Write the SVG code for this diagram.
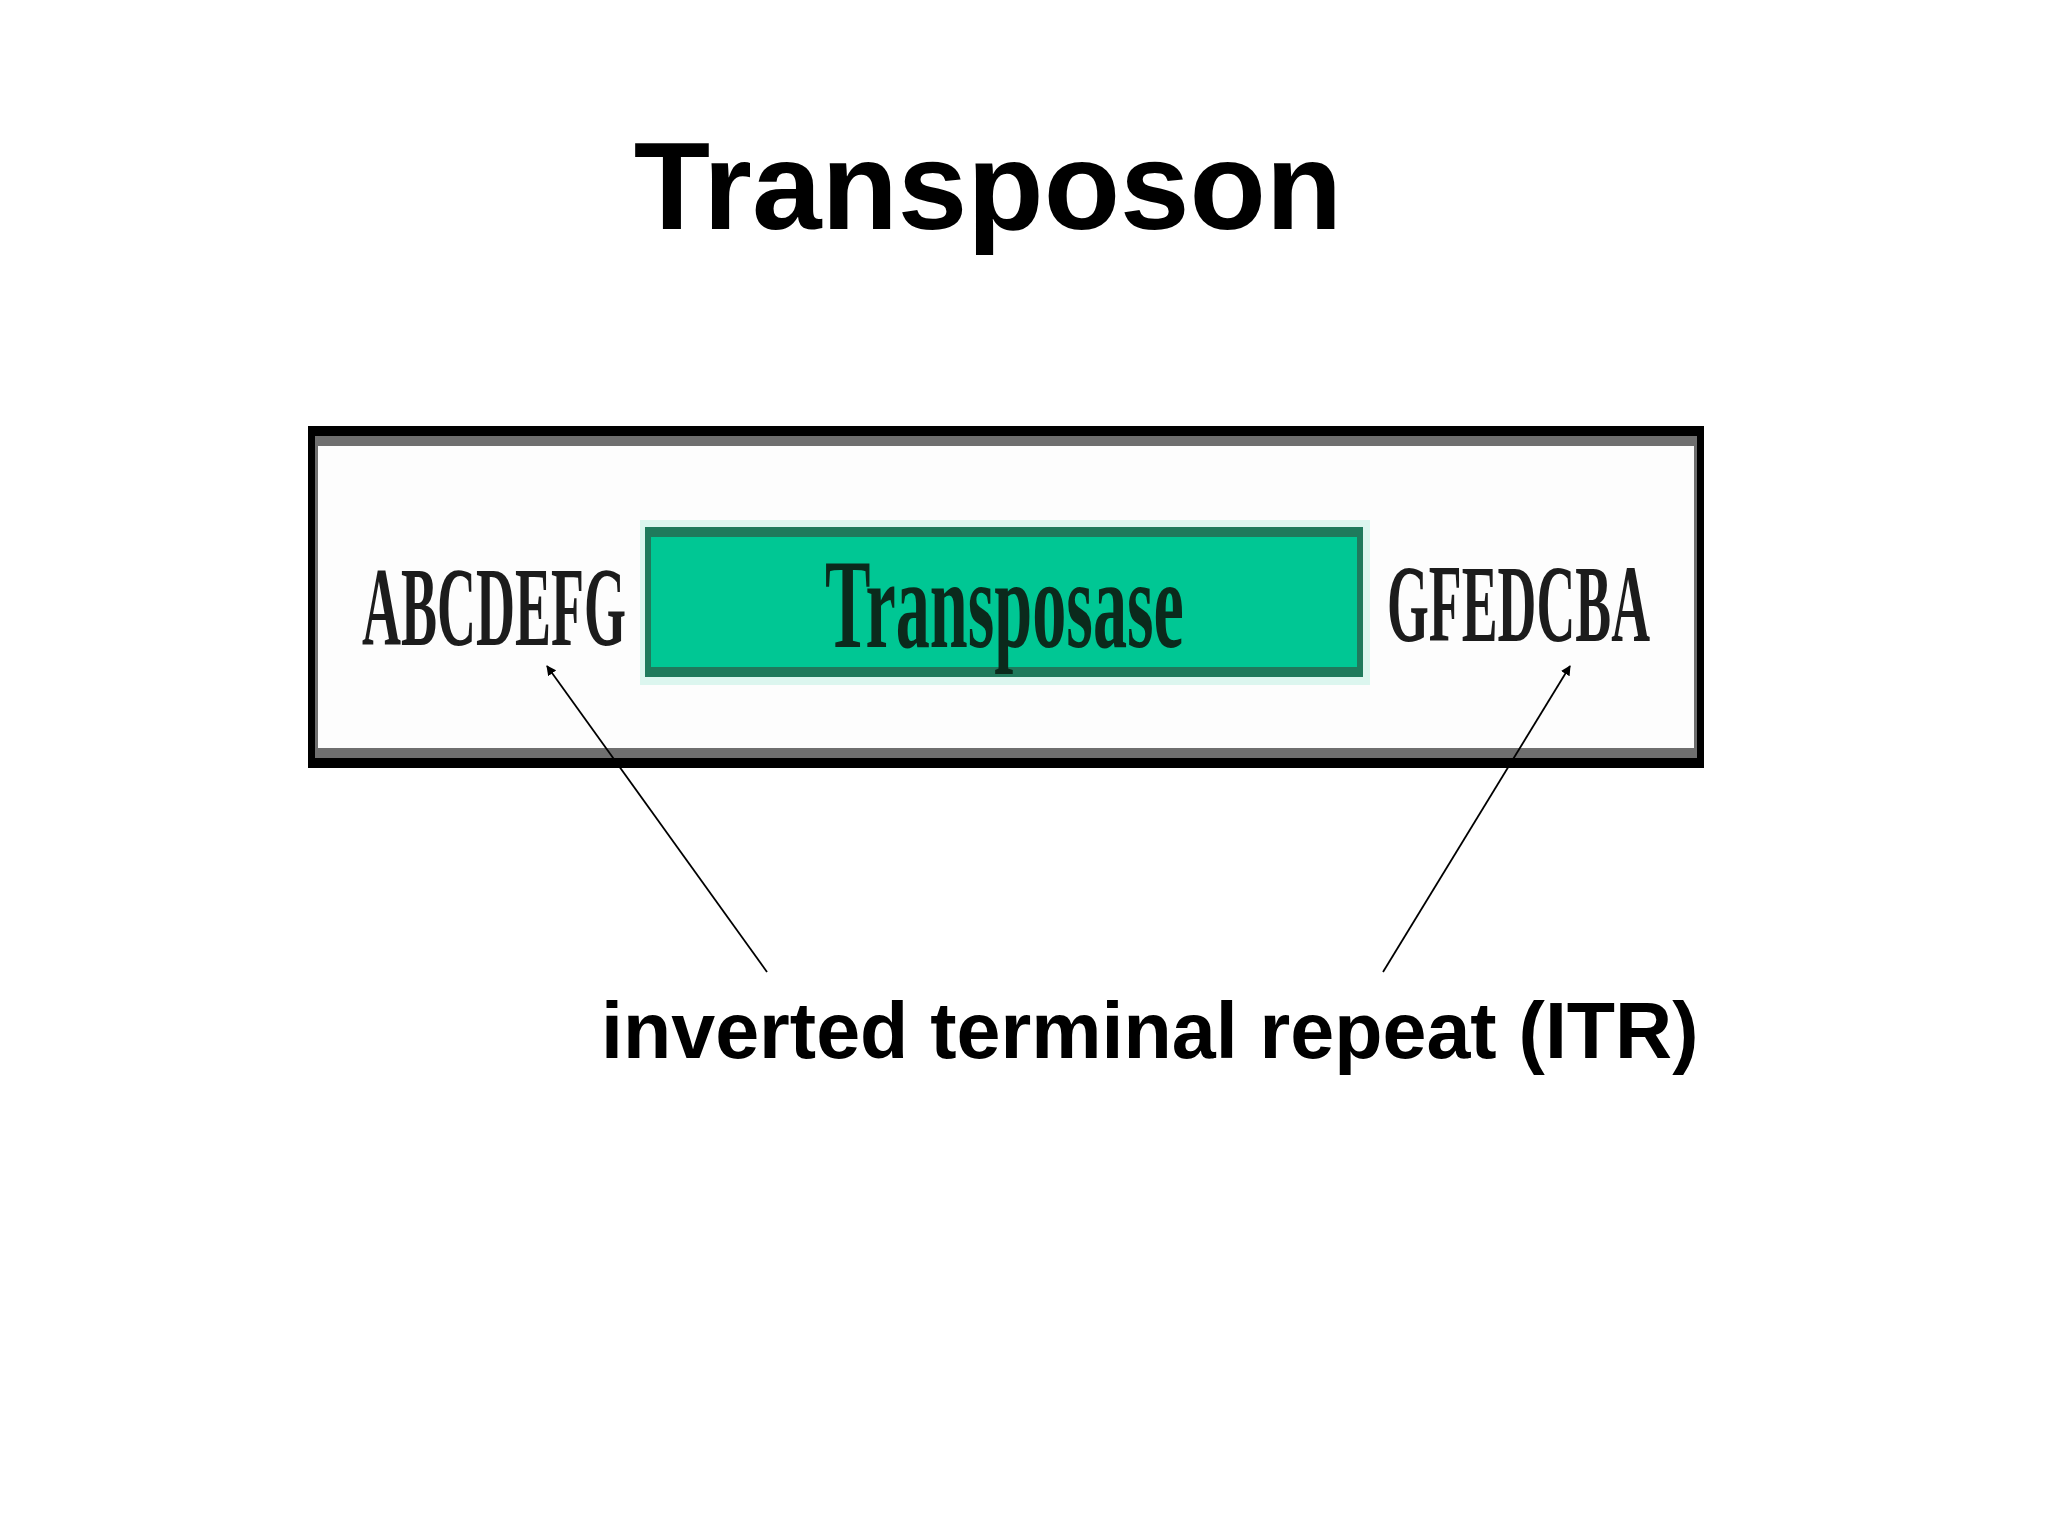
<svg xmlns="http://www.w3.org/2000/svg" width="2048" height="1536" viewBox="0 0 2048 1536">
  <defs>
    <style>
      .title { font-family: "Liberation Sans", Arial, sans-serif; font-weight: bold; fill: #000; }
      .seq { font-family: "Liberation Serif", "Times New Roman", serif; font-weight: bold; fill: #1c1c1c; }
      .gene { font-family: "Liberation Serif", "Times New Roman", serif; font-weight: bold; fill: #0b2a1c; }
      .conn { stroke: #000; stroke-width: 1.8; fill: none; }
    </style>
    <marker id="arrow" viewBox="0 0 10 10" refX="9" refY="5" markerWidth="10" markerHeight="10" markerUnits="userSpaceOnUse" orient="auto">
      <path d="M0,0 L10,5 L0,10 z" fill="#000"/>
    </marker>
  </defs>
  <rect width="2048" height="1536" fill="#ffffff"/>

  <g id="title">
    <text class="title" x="988" y="229" font-size="125" text-anchor="middle">Transposon</text>
  </g>

  <g id="transposon-box">
    <rect x="308" y="426" width="1396" height="342" fill="#000"/>
    <rect x="315" y="436" width="1382" height="322" fill="#6f6f6f"/>
    <rect x="318" y="446" width="1376" height="302" fill="#fdfdfd"/>
  </g>

  <g id="itr-left">
    <text class="seq" transform="translate(362,645) scale(0.482,1)" x="0" y="0" font-size="112">ABCDEFG</text>
  </g>

  <g id="transposase">
    <rect x="640" y="520" width="730" height="165" fill="#dcf6ef"/>
    <rect x="645" y="527" width="718" height="150" fill="#1f7a5c"/>
    <rect x="651" y="537" width="706" height="130" fill="#00c794"/>
    <text class="gene" transform="translate(825,647) scale(0.533,1)" x="0" y="0" font-size="128">Transposase</text>
  </g>

  <g id="itr-right">
    <text class="seq" transform="translate(1387,641) scale(0.489,1)" x="0" y="0" font-size="110">GFEDCBA</text>
  </g>

  <g id="label">
    <text class="title" x="601" y="1058" font-size="79">inverted terminal repeat (ITR)</text>
  </g>

  <g id="connectors">
    <line class="conn" x1="767" y1="972" x2="547" y2="666" marker-end="url(#arrow)"/>
    <line class="conn" x1="1383" y1="972" x2="1570" y2="666" marker-end="url(#arrow)"/>
  </g>
</svg>
